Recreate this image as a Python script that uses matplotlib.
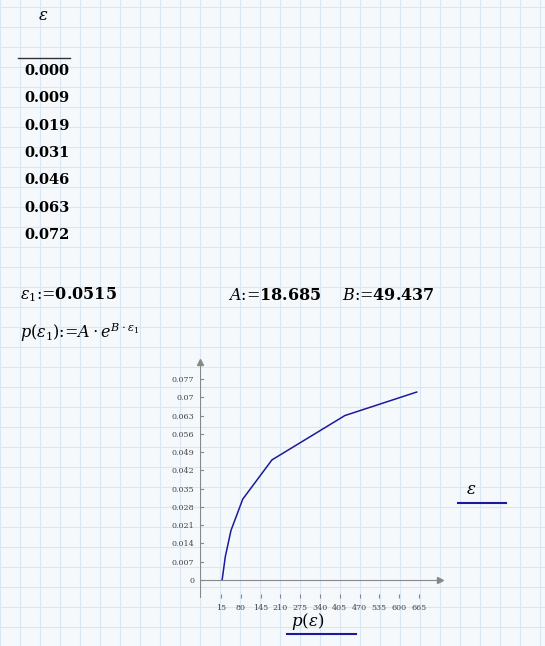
import matplotlib
matplotlib.use("Agg")
import matplotlib.pyplot as plt

plt.rcParams["mathtext.fontset"] = "dejavuserif"

eps = [0.000, 0.009, 0.019, 0.031, 0.046, 0.063, 0.072]
p_vals = [18.685, 29.2, 47.8, 86.5, 182.2, 421.7, 657.4]
xticks = [15, 80, 145, 210, 275, 340, 405, 470, 535, 600, 665]
yticks = [0, 0.007, 0.014, 0.021, 0.028, 0.035, 0.042, 0.049, 0.056, 0.063, 0.07, 0.077]
ytick_labels = ["0", "0.007", "0.014", "0.021", "0.028", "0.035", "0.042",
                "0.049", "0.056", "0.063", "0.07", "0.077"]

W, H = 545, 646
fig = plt.figure(figsize=(W/100, H/100), dpi=100)
fig.patch.set_facecolor("#f6f9fb")
bg = fig.add_axes([0, 0, 1, 1])
bg.set_xlim(0, W); bg.set_ylim(H, 0); bg.axis("off")
for gx in range(0, W, 20):
    bg.axvline(gx, color="#d9e6f3", lw=0.8)
for gy in range(7, H, 20):
    bg.axhline(gy, color="#d9e6f3", lw=0.8)
bg.add_patch(plt.Rectangle((200, 355), 242, 250, color="#f6f9fb", zorder=1))

def T(x, y, s, **kw):
    kw.setdefault("fontsize", 11)
    kw.setdefault("family", "DejaVu Serif")
    bg.text(x, y, s, va="center", **kw)

T(38, 16, r"$\varepsilon$", fontsize=12)
bg.plot([18, 70], [58, 58], color="#333333", lw=1)
for i, e in enumerate(eps):
    T(24, 71 + i*27.3, f"{e:.3f}", fontsize=10.5, fontweight="bold")
T(20, 295, r"$\varepsilon_1$:=$\mathbf{0.0515}$", fontsize=11.5)
T(228, 295, r"$A$:=$\mathbf{18.685}$", fontsize=11.5)
T(342, 295, r"$B$:=$\mathbf{49.437}$", fontsize=11.5)
T(20, 333, r"$p\left(\varepsilon_1\right)$:=$A\cdot e^{B\cdot\varepsilon_1}$", fontsize=11.5)
T(466, 490, r"$\varepsilon$", fontsize=12)
bg.plot([458, 506], [503, 503], color="#1a1a9a", lw=1.5)
T(291, 622, r"$p\left(\varepsilon\right)$", fontsize=12)
bg.plot([287, 356], [634, 634], color="#1a1a9a", lw=1.5)

ax = fig.add_axes([200/W, 1-598/H, 240/W, 236/H])
ax.patch.set_alpha(0)
x0 = 15 - 21*650/198
x1 = 665 + 21*650/198
ax.set_xlim(x0, x1)
ax.set_ylim(-18*0.077/201, 0.077 + 17*0.077/201)
for s in ax.spines.values():
    s.set_visible(False)
ax.plot(p_vals, eps, color="#1a1a9a", lw=1.1)
ax.plot([x0, x1], [0, 0], color="#888888", lw=0.8, clip_on=False)
ax.plot([x0, x0], [-1, 1], color="#888888", lw=0.8)
ax.plot([x1], [0], marker=">", color="#888888", ms=4, clip_on=False)
ax.plot([x0], [0.0835], marker="^", color="#888888", ms=4, clip_on=False)
ax.set_xticks(xticks)
ax.set_xticklabels([str(v) for v in xticks])
ax.set_yticks(yticks)
ax.set_yticklabels(ytick_labels)
ax.tick_params(axis="x", direction="in", length=3, color="#888888", labelsize=5.8, labelcolor="#444444", pad=4)
ax.tick_params(axis="y", direction="in", length=3, color="#888888", labelsize=5.8, labelcolor="#444444", pad=4, left=False)
for lbl in ax.get_xticklabels() + ax.get_yticklabels():
    lbl.set_family("DejaVu Serif")
for yt in yticks:
    ax.plot([x0, x0 + 3*650/198], [yt, yt], color="#888888", lw=0.8)
fig.savefig("out.png", dpi=100, facecolor=fig.get_facecolor())
